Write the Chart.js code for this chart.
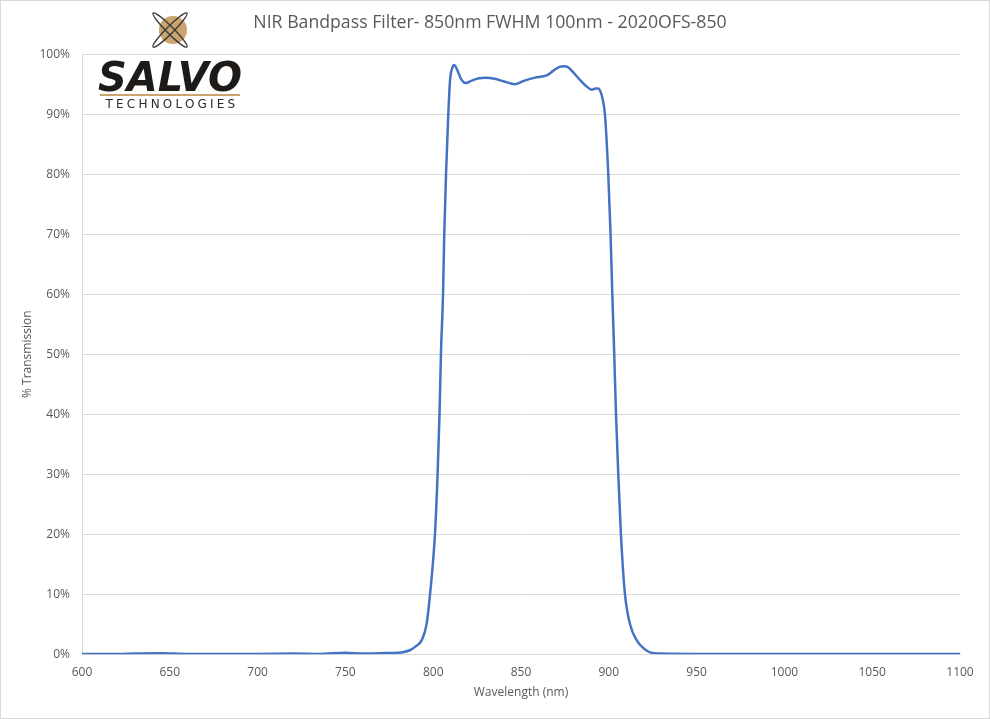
<!DOCTYPE html>
<html>
<head>
<meta charset="utf-8">
<script src="https://cdn.jsdelivr.net/npm/chart.js@4"></script>
<style>
  html, body { margin: 0; padding: 0; background: #fff; }
  #wrap { width: 990px; height: 719px; position: relative; }
</style>
</head>
<body>
<div id="wrap"><canvas id="myChart"></canvas></div>
<script>
// wavelength (nm) and transmission (%)
const wavelength = [600, 620, 630, 645, 660, 700, 720, 735, 750, 760, 775, 782, 787, 790, 793.4, 796.3, 798.2,
    801, 802.5, 803.6, 804.4, 805.6, 806.3, 807.3, 808.6, 809.6, 811, 812, 813.5, 816, 818.5, 822, 826, 830,
    835, 840, 846.5, 852, 858, 862, 865, 869, 872, 874.5, 877, 880, 884, 887.5, 890.3, 892.5, 894, 895.5,
    896.5, 897.8, 899.7, 901, 902, 903.1, 904.1, 905.4, 906.9, 909.2, 912.1, 915.9, 920.6, 923.5, 930, 950,
    1000, 1100];
const transmission = [0.05, 0.05, 0.1, 0.15, 0.05, 0.05, 0.1, 0.05, 0.25, 0.1, 0.2, 0.3, 0.7, 1.3, 2.3, 5.1, 10,
    20, 30, 40, 50, 60, 70, 80, 90, 95.7, 97.8, 98.2, 97.5, 95.8, 95.2, 95.6, 96.0, 96.1,
    95.9, 95.5, 95.0, 95.6, 96.1, 96.3, 96.5, 97.4, 97.9, 98.0, 97.8, 96.9, 95.6, 94.6, 94.1, 94.3, 94.3, 93.6,
    92.5, 90, 80, 70, 60, 50, 40, 30, 20, 10, 5, 2.3, 0.8, 0.3, 0.1, 0.05,
    0.05, 0.05];
const xTicks = [600, 650, 700, 750, 800, 850, 900, 950, 1000, 1050, 1100];
const yTicks = [0, 10, 20, 30, 40, 50, 60, 70, 80, 90, 100];

const points = wavelength.map((w, i) => ({ x: w, y: transmission[i] }));

// frame + logo
const decor = {
    id: 'decor',
    beforeDraw(chart) {
        const c = chart.ctx;
        c.save();
        c.fillStyle = '#fff';
        c.fillRect(0, 0, chart.width, chart.height);
        c.strokeStyle = '#d9d9d9';
        c.lineWidth = 1;
        c.strokeRect(0.5, 0.5, chart.width - 1, chart.height - 1);
        c.restore();
    },
    afterDraw(chart) {
        const c = chart.ctx;
        c.save();
        // icon
        c.fillStyle = '#c9a46e';
        c.beginPath();
        c.arc(173, 30, 14, 0, Math.PI * 2);
        c.fill();
        c.strokeStyle = '#3a3a3a';
        c.lineWidth = 1.3;
        for (const a of [Math.PI / 4, -Math.PI / 4]) {
            c.beginPath();
            c.ellipse(170, 30, 24, 3.5, a, 0, Math.PI * 2);
            c.stroke();
        }
        // wordmark
        c.fillStyle = '#1e1a17';
        c.font = 'italic bold 40px "DejaVu Sans"';
        c.textAlign = 'center';
        c.textBaseline = 'alphabetic';
        c.fillText('SALVO', 170, 91);
        c.strokeStyle = '#c9a46e';
        c.lineWidth = 2;
        c.beginPath();
        c.moveTo(100, 95);
        c.lineTo(240, 95);
        c.stroke();
        c.fillStyle = '#2a2a2a';
        c.font = '12px "DejaVu Sans"';
        c.letterSpacing = '3.2px';
        c.fillText('TECHNOLOGIES', 172, 108);
        c.restore();
    }
};

const ctx = document.getElementById('myChart');
const myChart = new Chart(ctx, {
    type: 'line',
    data: {
        datasets: [{
            label: '% Transmission',
            data: points,
            borderColor: '#4472c4',
            borderWidth: 2.5,
            pointRadius: 0,
            fill: false,
            cubicInterpolationMode: 'monotone'
        }]
    },
    options: {
        responsive: true,
        maintainAspectRatio: false,
        animation: false,
        layout: { padding: { left: 20, right: 30, top: 0, bottom: 15 } },
        plugins: {
            legend: { display: false },
            tooltip: { enabled: false },
            title: {
                display: true,
                text: 'NIR Bandpass Filter- 850nm FWHM 100nm - 2020OFS-850',
                color: '#595959',
                font: { family: '"Open Sans"', size: 17.7, weight: 'normal' },
                padding: { top: 12.5, bottom: 20.5 }
            }
        },
        scales: {
            x: {
                type: 'linear',
                min: 600,
                max: 1100,
                afterBuildTicks: axis => { axis.ticks = xTicks.map(v => ({ value: v })); },
                grid: { display: false, drawTicks: false },
                border: { display: true, color: '#d9d9d9', width: 1 },
                ticks: { color: '#595959', font: { family: '"Open Sans"', size: 12 }, padding: 11, maxRotation: 0,
                    callback: v => String(v) },
                title: { display: true, text: 'Wavelength (nm)', color: '#595959',
                    font: { family: '"Open Sans"', size: 12 }, padding: { top: -5 } }
            },
            y: {
                min: 0,
                max: 100,
                afterBuildTicks: axis => { axis.ticks = yTicks.map(v => ({ value: v })); },
                afterFit: axis => { axis.width = 62; },
                grid: { color: '#d9d9d9', drawTicks: false },
                border: { display: true, color: '#d9d9d9' },
                ticks: { color: '#595959', font: { family: '"Open Sans"', size: 12 }, padding: 12,
                    callback: v => v + '%' },
                title: { display: true, text: '% Transmission', color: '#595959',
                    font: { family: '"Open Sans"', size: 12 }, padding: 0 }
            }
        }
    },
    plugins: [decor]
});
</script>
</body>
</html>
